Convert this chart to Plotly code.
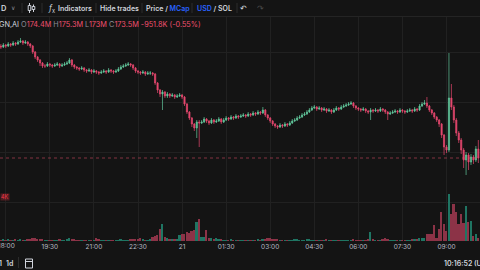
import pandas as pd
import plotly.graph_objects as go

# ---------------- data (5-minute candles, market cap in $M) ----------------
start_time = "2025-01-20 17:50"
bar_minutes = 5

opens = [
    184.7, 184.6, 184.8, 184.7, 184.9, 184.8, 185.0, 184.9, 185.1, 185.2,
    185.0, 185.1, 184.9, 184.7, 184.1, 183.6, 183.3, 183.0, 182.7, 182.7,
    182.9, 182.8, 182.7, 182.8, 182.9, 182.7, 182.8, 182.9, 183.0, 183.3,
    182.8, 182.6, 182.5, 182.4, 182.5, 182.3, 182.2, 182.3, 182.1, 182.2,
    182.1, 182.0, 182.1, 182.2, 182.1, 182.3, 182.2, 182.1, 182.2, 182.4,
    182.6, 182.7, 182.8, 182.9, 182.8, 182.5, 182.2, 182.1, 182.0, 182.1,
    181.9, 182.0, 182.0, 181.9, 181.0, 180.3, 179.9, 180.1, 179.7, 179.9,
    179.7, 179.8, 179.6, 179.7, 179.8, 179.6, 178.9, 178.1, 177.5, 176.9,
    176.5, 177.1, 177.0, 177.1, 177.4, 177.2, 177.0, 177.3, 177.1, 177.2,
    177.4, 177.1, 177.3, 177.5, 177.4, 177.6, 177.5, 177.7, 177.6, 177.7,
    177.8, 177.7, 177.9, 177.8, 178.0, 177.9, 178.1, 178.0, 178.3, 177.8,
    177.5, 177.2, 176.9, 176.7, 176.6, 176.8, 176.7, 176.9, 176.8, 177.0,
    177.2, 177.3, 177.5, 177.6, 177.8, 177.9, 178.1, 178.3, 178.5, 178.6,
    178.4, 178.5, 178.3, 178.4, 178.2, 178.3, 178.1, 178.3, 178.5, 178.4,
    178.6, 178.7, 178.8, 178.9, 179.0, 178.7, 178.5, 178.4, 178.3, 178.4,
    178.2, 178.1, 178.3, 178.2, 178.3, 178.2, 178.4, 178.3, 178.1, 177.9,
    178.0, 178.1, 178.2, 178.1, 178.3, 178.2, 178.1, 178.2, 178.3, 178.2,
    178.4, 178.3, 178.7, 178.9, 179.0, 178.7, 178.3, 178.0, 177.6, 177.3,
    176.9, 175.8, 174.6, 174.3, 179.5, 178.6, 177.3, 176.0, 175.3, 174.3,
    173.3, 173.8, 173.1, 173.6, 173.3, 174.4,
]
closes = [
    184.6, 184.8, 184.7, 184.9, 184.8, 185.0, 184.9, 185.1, 185.2, 185.0,
    185.1, 184.9, 184.7, 184.1, 183.6, 183.3, 183.0, 182.7, 182.7, 182.9,
    182.8, 182.7, 182.8, 182.9, 182.7, 182.8, 182.9, 183.0, 183.3, 182.8,
    182.6, 182.5, 182.4, 182.5, 182.3, 182.2, 182.3, 182.1, 182.2, 182.1,
    182.0, 182.1, 182.2, 182.1, 182.3, 182.2, 182.1, 182.2, 182.4, 182.6,
    182.7, 182.8, 182.9, 182.8, 182.5, 182.2, 182.1, 182.0, 182.1, 181.9,
    182.0, 182.0, 181.9, 181.0, 180.3, 179.9, 180.1, 179.7, 179.9, 179.7,
    179.8, 179.6, 179.7, 179.8, 179.6, 178.9, 178.1, 177.5, 176.9, 176.5,
    177.1, 177.0, 177.1, 177.4, 177.2, 177.0, 177.3, 177.1, 177.2, 177.4,
    177.1, 177.3, 177.5, 177.4, 177.6, 177.5, 177.7, 177.6, 177.7, 177.8,
    177.7, 177.9, 177.8, 178.0, 177.9, 178.1, 178.0, 178.3, 177.8, 177.5,
    177.2, 176.9, 176.7, 176.6, 176.8, 176.7, 176.9, 176.8, 177.0, 177.2,
    177.3, 177.5, 177.6, 177.8, 177.9, 178.1, 178.3, 178.5, 178.6, 178.4,
    178.5, 178.3, 178.4, 178.2, 178.3, 178.1, 178.3, 178.5, 178.4, 178.6,
    178.7, 178.8, 178.9, 179.0, 178.7, 178.5, 178.4, 178.3, 178.4, 178.2,
    178.1, 178.3, 178.2, 178.3, 178.2, 178.4, 178.3, 178.1, 177.9, 178.0,
    178.1, 178.2, 178.1, 178.3, 178.2, 178.1, 178.2, 178.3, 178.2, 178.4,
    178.3, 178.7, 178.9, 179.0, 178.7, 178.3, 178.0, 177.6, 177.3, 176.9,
    175.8, 174.6, 174.3, 179.5, 178.6, 177.3, 176.0, 175.3, 174.3, 173.3,
    173.8, 173.1, 173.6, 173.3, 174.4, 173.5,
]
highs = [
    184.9, 185.0, 184.9, 185.1, 185.0, 185.2, 185.1, 185.3, 185.5, 185.3,
    185.3, 185.2, 185.0, 184.8, 184.2, 183.7, 183.4, 183.1, 182.9, 183.1,
    183.0, 182.9, 183.0, 183.1, 183.0, 183.0, 183.1, 183.2, 183.5, 183.4,
    182.9, 182.7, 182.6, 182.7, 182.6, 182.4, 182.5, 182.4, 182.4, 182.3,
    182.2, 182.3, 182.4, 182.3, 182.5, 182.4, 182.3, 182.4, 182.6, 182.8,
    182.9, 183.0, 183.1, 183.0, 182.9, 182.6, 182.3, 182.2, 182.3, 182.2,
    182.2, 182.2, 182.1, 182.0, 181.1, 180.4, 180.3, 180.2, 180.1, 180.0,
    180.0, 179.9, 179.9, 180.0, 179.9, 179.7, 179.0, 178.2, 177.6, 177.0,
    177.3, 177.3, 177.3, 177.6, 177.5, 177.3, 177.5, 177.4, 177.4, 177.6,
    177.5, 177.5, 177.7, 177.6, 177.8, 177.7, 177.9, 177.8, 177.9, 178.0,
    177.9, 178.1, 178.0, 178.2, 178.1, 178.3, 178.2, 178.6, 178.4, 177.9,
    177.6, 177.3, 177.0, 176.8, 177.0, 176.9, 177.1, 177.0, 177.2, 177.4,
    177.5, 177.7, 177.8, 178.0, 178.1, 178.3, 178.5, 178.7, 178.8, 178.7,
    178.7, 178.6, 178.6, 178.5, 178.5, 178.4, 178.5, 178.7, 178.6, 178.8,
    178.9, 179.0, 179.1, 179.2, 179.1, 178.8, 178.6, 178.5, 178.6, 178.5,
    178.3, 178.5, 178.4, 178.5, 178.4, 178.6, 178.5, 178.4, 178.2, 178.2,
    178.3, 178.4, 178.3, 178.5, 178.4, 178.3, 178.4, 178.5, 178.4, 178.6,
    178.5, 178.9, 179.1, 179.3, 179.6, 178.8, 178.4, 178.1, 177.7, 177.4,
    177.0, 175.9, 174.8, 184.0, 180.9, 178.8, 177.5, 176.2, 175.5, 174.5,
    174.1, 174.0, 173.9, 173.8, 174.7, 175.3,
]
lows = [
    184.4, 184.5, 184.5, 184.6, 184.6, 184.7, 184.7, 184.8, 185.0, 184.8,
    184.9, 184.7, 184.5, 183.9, 183.4, 183.1, 182.7, 182.5, 182.5, 182.6,
    182.6, 182.5, 182.6, 182.7, 182.5, 182.6, 182.7, 182.8, 182.9, 182.6,
    182.4, 182.3, 182.2, 182.3, 182.1, 182.0, 182.1, 181.9, 182.0, 181.9,
    181.8, 181.9, 182.0, 181.9, 182.0, 182.0, 181.9, 182.0, 182.1, 182.3,
    182.5, 182.6, 182.7, 182.6, 182.3, 182.0, 181.9, 181.8, 181.9, 181.7,
    181.8, 181.8, 181.7, 180.8, 180.0, 179.6, 178.3, 179.5, 179.5, 179.5,
    179.6, 179.4, 179.5, 179.6, 179.4, 178.7, 177.9, 177.3, 176.6, 176.2,
    175.5, 174.6, 176.9, 177.0, 177.0, 176.8, 176.9, 176.9, 177.0, 177.1,
    176.9, 177.0, 177.2, 177.2, 177.3, 177.3, 177.4, 177.4, 177.5, 177.6,
    177.5, 177.6, 177.6, 177.7, 177.7, 177.8, 177.8, 177.9, 177.6, 177.3,
    177.0, 176.7, 176.5, 176.4, 176.5, 176.5, 176.6, 176.6, 176.7, 176.9,
    177.1, 177.2, 177.4, 177.5, 177.7, 177.8, 178.0, 178.2, 178.4, 178.2,
    178.3, 178.1, 178.2, 178.0, 178.1, 177.9, 178.0, 178.2, 178.2, 178.3,
    178.5, 178.6, 178.7, 178.8, 178.5, 178.3, 178.2, 178.1, 178.2, 178.0,
    177.9, 177.3, 178.0, 178.1, 178.0, 178.1, 178.1, 177.9, 177.3, 177.8,
    177.9, 178.0, 177.9, 178.0, 178.0, 177.9, 178.0, 178.1, 178.0, 178.1,
    178.1, 178.2, 178.6, 178.8, 178.5, 178.1, 177.8, 177.4, 177.1, 176.6,
    175.5, 173.8, 174.0, 174.1, 178.3, 177.0, 175.7, 175.0, 173.9, 172.5,
    171.8, 172.3, 172.8, 172.9, 173.1, 173.0,
]
volumes_k = [
    1.5, 2.2, 1.2, 1.8, 1.0, 1.5, 2.0, 1.2, 1.6, 1.1,
    1.4, 1.9, 2.5, 4.5, 4.2, 2.8, 2.0, 1.6, 1.2, 1.0,
    1.5, 1.3, 0.9, 1.2, 1.6, 1.1, 1.4, 1.8, 4.5, 2.5,
    1.6, 1.2, 1.0, 0.8, 1.3, 1.1, 0.9, 1.2, 1.5, 4.5,
    1.8, 1.2, 1.0, 0.9, 1.4, 1.1, 0.8, 1.0, 1.3, 1.6,
    1.2, 1.0, 1.5, 2.0, 2.4, 3.0, 3.6, 4.2, 3.3, 1.5,
    1.2, 2.5, 6.0, 7.5, 9.0, 18.0, 25.5, 6.0, 4.5, 3.0,
    2.4, 2.0, 3.5, 9.0, 10.5, 10.0, 13.5, 12.0, 15.0, 16.5,
    28.5, 33.0, 6.0, 6.5, 16.5, 4.5, 4.0, 3.2, 4.5, 2.5,
    2.0, 1.5, 1.2, 1.0, 1.6, 1.3, 0.8, 1.0, 1.2, 1.5,
    1.1, 0.9, 1.4, 1.0, 1.2, 1.8, 1.3, 2.2, 3.0, 3.8,
    4.2, 2.6, 2.0, 1.6, 1.2, 0.9, 1.1, 1.5, 1.0, 1.3,
    2.0, 1.8, 1.2, 1.0, 1.4, 2.2, 1.8, 1.5, 1.1, 0.9,
    1.3, 1.0, 1.2, 1.6, 1.1, 0.8, 1.0, 1.4, 1.2, 0.9,
    1.5, 1.1, 1.0, 1.3, 1.7, 1.2, 0.9, 1.0, 1.4, 1.2,
    1.6, 13.5, 2.0, 1.4, 1.0, 1.2, 1.6, 4.5, 2.2, 1.5,
    1.2, 1.0, 1.4, 1.1, 0.9, 1.2, 1.5, 1.3, 2.0, 1.6,
    2.4, 4.5, 4.0, 5.0, 10.5, 9.8, 11.0, 24.0, 4.5, 18.0,
    43.5, 25.5, 15.0, 70.5, 40.5, 55.5, 43.5, 25.5, 40.5, 27.0,
    52.5, 28.5, 30.0, 7.5, 10.5, 4.5,
]

tick_times = ["2025-01-20 18:00", "2025-01-20 19:30", "2025-01-20 21:00",
              "2025-01-20 22:30", "2025-01-21 00:00", "2025-01-21 01:30",
              "2025-01-21 03:00", "2025-01-21 04:30", "2025-01-21 06:00",
              "2025-01-21 07:30", "2025-01-21 09:00"]
tick_labels = ["18:00", "19:30", "21:00", "22:30", "21", "01:30", "03:00",
               "04:30", "06:00", "07:30", "09:00"]

legend_open, legend_high, legend_low, legend_close = "174.4M", "175.3M", "173M", "173.5M"
legend_change = "-951.8K (-0.55%)"
last_price = 173.5

# ---------------- styling ----------------
W, H = 480, 270
BG = "#141414"
GRID = "#212121"
UP = "#62c79c"
DOWN = "#e5476f"
VOL_UP = "#1f7563"
VOL_DOWN = "#8c3347"
TXT = "#d1d4dc"
DIM = "#8a8d96"
BLUE = "#2962ff"
FONT = "Inter, Roboto, sans-serif"

times = pd.date_range(start_time, periods=len(closes), freq=f"{bar_minutes}min")
vol_colors = [VOL_UP if c >= o else VOL_DOWN for o, c in zip(opens, closes)]

top_px, bottom_px = 17, 241


def py(p):
    return 1 - p / H


fig = go.Figure()
fig.add_trace(go.Bar(
    x=times, y=volumes_k, yaxis="y2", marker=dict(color=vol_colors, line=dict(width=0)),
    width=bar_minutes * 60 * 1000 * 0.72, hoverinfo="skip", showlegend=False,
))
fig.add_trace(go.Candlestick(
    x=times, open=opens, high=highs, low=lows, close=closes,
    increasing=dict(line=dict(color=UP, width=0.7), fillcolor=UP),
    decreasing=dict(line=dict(color=DOWN, width=0.7), fillcolor=DOWN),
    whiskerwidth=0, hoverinfo="skip", showlegend=False,
))

annotations = []


def txt(x, y, s, color=TXT, size=7, anchor="left", weight=None):
    f = dict(family=FONT, size=size, color=color)
    if weight:
        f["weight"] = weight
    annotations.append(dict(
        x=x / W, y=py(y), xref="paper", yref="paper", text=s, showarrow=False,
        xanchor=anchor, yanchor="middle", font=f, borderpad=0, borderwidth=0,
    ))


# top toolbar
txt(1, 8, "D", TXT, 7.5, weight=600)
txt(11, 7.5, "∨", DIM, 6)
txt(48, 8.5, "<i>f</i><sub>x</sub>", TXT, 8)
txt(58, 8, "Indicators", TXT, 7, weight=600)
txt(100, 8, "Hide trades", TXT, 7, weight=600)
txt(146, 8, f"Price / <span style='color:{BLUE}'>MCap</span>", TXT, 7, weight=600)
txt(197, 8, f"<span style='color:{BLUE}'>USD</span> / SOL", TXT, 7, weight=600)
txt(240, 7.5, "↶", TXT, 8)
txt(257, 7.5, "↷", "#4a4a4a", 8)

# legend row
RED = "#f0506e"
legend = (f"GN,AI <span style='color:{DIM}'>O</span><span style='color:{RED}'>{legend_open}</span> "
          f"<span style='color:{DIM}'>H</span><span style='color:{RED}'>{legend_high}</span> "
          f"<span style='color:{DIM}'>L</span><span style='color:{RED}'>{legend_low}</span> "
          f"<span style='color:{DIM}'>C</span><span style='color:{RED}'>{legend_close}</span> "
          f"<span style='color:{RED}'>{legend_change}</span>")
txt(-1, 25, legend, TXT, 7.3)

# volume label
annotations.append(dict(x=0, y=py(197), xref="paper", yref="paper", text="4K",
                        showarrow=False, xanchor="left", yanchor="middle",
                        font=dict(family=FONT, size=5.5, color="#f23645"),
                        bgcolor="rgba(242,54,69,0.28)", borderpad=0))

# first time label (partly outside the left edge, as in the reference)
txt(6, 246, tick_labels[0], "#b8bbc4", 6.5, anchor="center")

# bottom toolbar
txt(-1, 263, "1", TXT, 7, weight=600)
txt(6, 263, "1d", TXT, 7, weight=600)
txt(444, 263, "10:16:52 (UTC)", TXT, 7, weight=600)

shapes = []


def vline(x, y0, y1, color="#2c2c2c", w=1):
    shapes.append(dict(type="line", xref="paper", yref="paper", x0=x / W, x1=x / W,
                       y0=py(y0), y1=py(y1), line=dict(color=color, width=w)))


for sx in [22, 42, 96, 142, 192, 237]:
    vline(sx, 3, 13)
vline(18.5, 257, 268)
# toolbar bottom border
shapes.append(dict(type="line", xref="paper", yref="paper", x0=0, x1=1, y0=py(16.5), y1=py(16.5),
                   line=dict(color="#242424", width=1)))
# candle icon
for cx, r0, r1, w0, w1 in [(29.5, 5.5, 10.5, 3, 13), (33.5, 6.5, 9.5, 4.5, 12)]:
    vline(cx, w0, w1, TXT, 1)
    shapes.append(dict(type="rect", xref="paper", yref="paper", x0=(cx - 1.3) / W, x1=(cx + 1.3) / W,
                       y0=py(r1), y1=py(r0), line=dict(color=TXT, width=1), fillcolor=BG))
# calendar icon
shapes.append(dict(type="rect", xref="paper", yref="paper", x0=25.5 / W, x1=32.5 / W,
                   y0=py(268), y1=py(259), line=dict(color=TXT, width=1)))
shapes.append(dict(type="line", xref="paper", yref="paper", x0=25.5 / W, x1=32.5 / W,
                   y0=py(261.5), y1=py(261.5), line=dict(color=TXT, width=1)))
# last price dotted line
shapes.append(dict(type="line", xref="paper", yref="y", x0=0, x1=1, y0=last_price, y1=last_price,
                   line=dict(color="rgba(240,80,110,0.5)", width=1, dash="dot")))

x0 = pd.Timestamp("2025-01-20 17:48:12")
x1 = pd.Timestamp("2025-01-21 10:08:24")

fig.update_layout(
    width=W, height=H, margin=dict(l=0, r=0, t=0, b=0),
    paper_bgcolor=BG, plot_bgcolor=BG, showlegend=False,
    boxgap=0.3, bargap=0, hovermode=False,
    font=dict(family=FONT, color=TXT),
    xaxis=dict(range=[x0, x1], domain=[0, 1], tickvals=pd.to_datetime(tick_times),
               ticktext=tick_labels, showgrid=True, gridcolor=GRID, gridwidth=1,
               zeroline=False, showline=False, ticks="", rangeslider=dict(visible=False),
               tickfont=dict(family=FONT, size=6.5, color="#b8bbc4"), fixedrange=True),
    yaxis=dict(range=[165.2, 187.6], domain=[1 - bottom_px / H, 1 - top_px / H],
               tick0=169.1, dtick=5, showgrid=True, gridcolor=GRID, gridwidth=1,
               showticklabels=False, zeroline=False, ticks="", fixedrange=True),
    yaxis2=dict(range=[0, 336], overlaying="y", visible=False, showgrid=False, fixedrange=True),
    annotations=annotations, shapes=shapes,
)

fig.write_html("out.html")
